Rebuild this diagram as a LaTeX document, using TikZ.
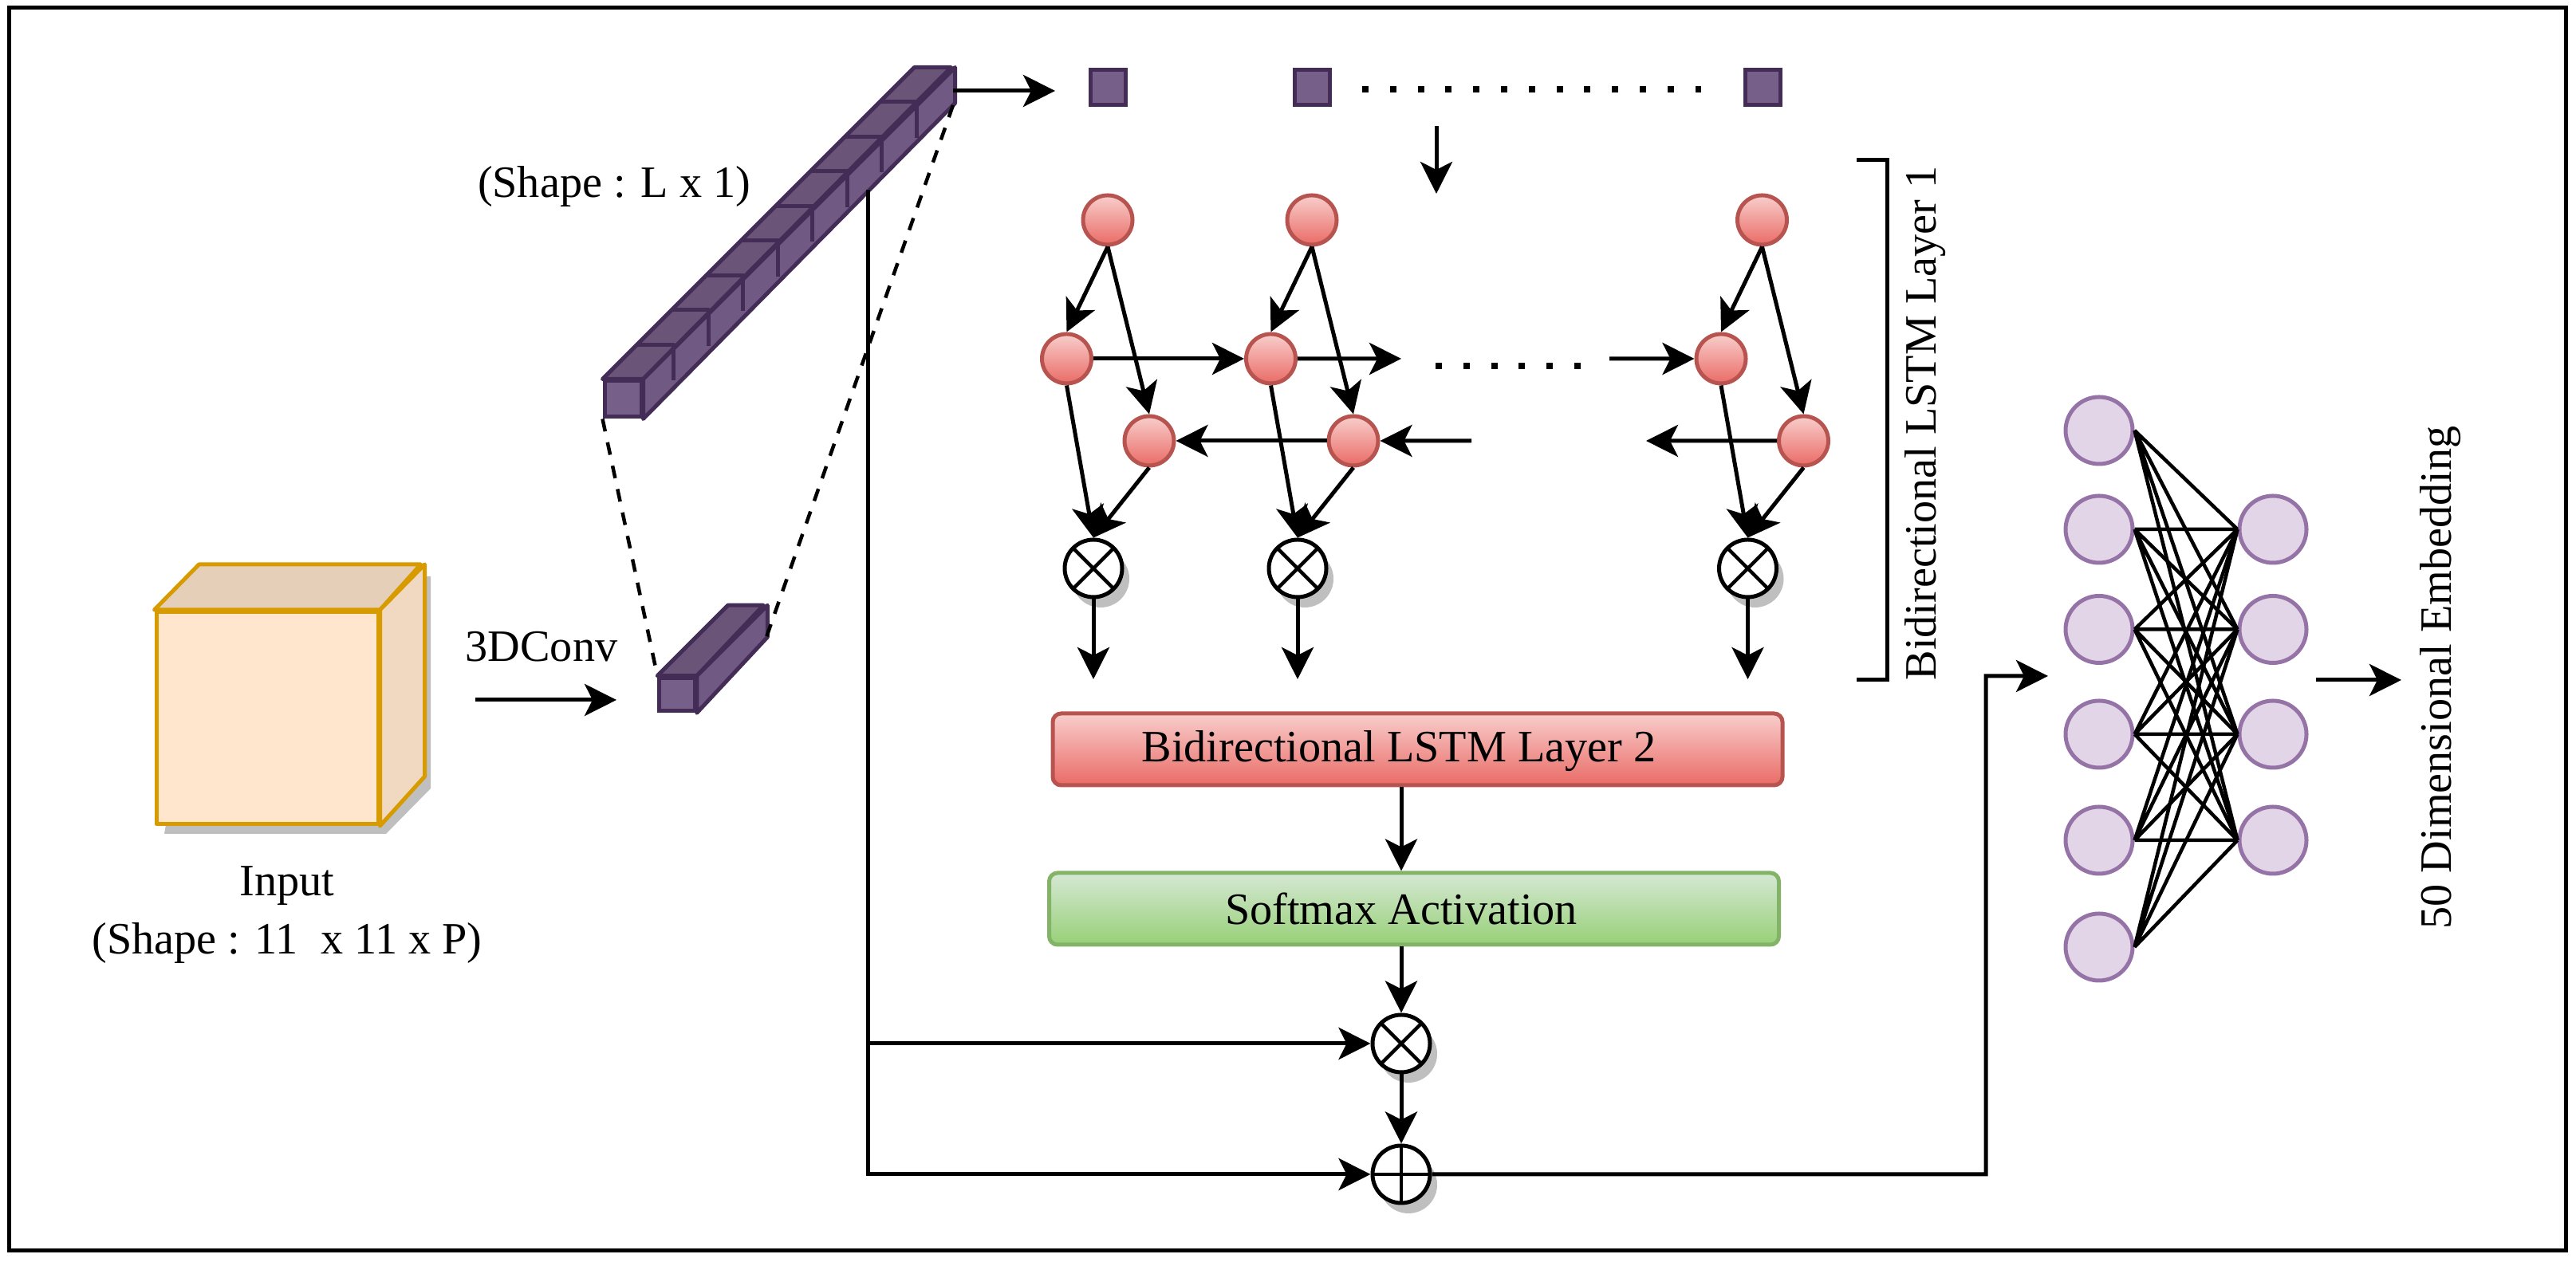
\documentclass[tikz,border=0pt]{standalone}
\usepackage{fontspec}
\setmainfont{Liberation Serif}
\usetikzlibrary{positioning, arrows.meta, shadows}
\definecolor{colorCubeFront}{RGB}{255,230,204}
\definecolor{colorCubeSide}{RGB}{240,217,192}
\definecolor{colorCubeTop}{RGB}{229,207,184}
\definecolor{colorCubeLine}{RGB}{215,155,0}
\definecolor{colorBarFront}{RGB}{118,96,138}
\definecolor{colorBarSide}{RGB}{112,90,132}
\definecolor{colorBarTop}{RGB}{106,84,120}
\definecolor{colorBarLine}{RGB}{67,45,87}
\definecolor{colorRedTop}{RGB}{248,206,204}
\definecolor{colorRedBottom}{RGB}{234,107,102}
\definecolor{colorRedLine}{RGB}{184,84,80}
\definecolor{colorGreenTop}{RGB}{213,232,212}
\definecolor{colorGreenBottom}{RGB}{151,208,119}
\definecolor{colorGreenLine}{RGB}{130,179,102}
\definecolor{colorDense}{RGB}{225,213,231}
\definecolor{colorDenseLine}{RGB}{150,115,166}

\begin{document}
\begin{tikzpicture}[
    on grid,
    every node/.style={font=\fontsize{16pt}{20.7pt}\selectfont},
    arrow/.style={-{Stealth[length=.40cm,width=.40cm,inset=.1cm]}, line width=.05cm, color=black},
    link/.style={line width=.045cm, color=black},
    dots/.style={line width=.085cm, dash pattern=on .08cm off .268cm},
    barface/.style={draw=colorBarLine, line width=.05cm, line join=round},
    cube/.style={draw=colorCubeLine, line width=.05cm, line join=round},
    cell/.style={rectangle, draw=colorBarLine, fill=colorBarFront, line width=.05cm, minimum size=.44cm, inner sep=0pt},
    lstm/.style={circle, draw=colorRedLine, line width=.05cm, top color=colorRedTop, bottom color=colorRedBottom, minimum size=.62cm, inner sep=0pt},
    dense/.style={circle, draw=colorDenseLine, fill=colorDense, line width=.05cm, minimum size=.84cm, inner sep=0pt},
    merge/.style={circle, draw=black, fill=white, line width=.05cm, minimum size=.72cm, inner sep=0pt,
                  drop shadow={shadow xshift=.09cm, shadow yshift=-.13cm, fill=black!25, opacity=1}},
    times/.style={merge, path picture={\draw[line width=.045cm] (path picture bounding box.south west) -- (path picture bounding box.north east)
                  (path picture bounding box.north west) -- (path picture bounding box.south east);}},
    plus/.style={merge, path picture={\draw[line width=.045cm] (path picture bounding box.south) -- (path picture bounding box.north)
                  (path picture bounding box.west) -- (path picture bounding box.east);}},
    block/.style={rectangle, rounded corners=3pt, line width=.05cm, minimum width=9.15cm, minimum height=.9cm, inner sep=0pt}
]
\useasboundingbox (0,0) rectangle (32.30,15.83);

% Outer frame
\draw[line width=.05cm] (.12,.14) rectangle (32.17,15.73);

% Input cube
\fill[black!25] (2.06,5.37) -- ++(2.78,0) -- ++(.56,.57) -- ++(0,2.66) -- ++(-2.78,0) -- cycle;
\node[rectangle, cube, fill=colorCubeFront, minimum width=2.78cm, minimum height=2.66cm, inner sep=0pt] (Input) at (3.35,6.825) {};
\draw[cube, fill=colorCubeTop] (Input.north west) -- ++(.56,.57) -- ++(2.78,0) -- (Input.north east) -- cycle;
\draw[cube, fill=colorCubeSide] (Input.north east) -- ++(.56,.57) -- ++(0,-2.66) -- (Input.south east) -- cycle;
\node (InputLabel) at (3.60,4.72) {Input};
\node[below=.72cm of InputLabel] (InputShape) {(Shape : 11~ x 11 x P)};

% 3DConv step
\coordinate (ConvFrom) at (5.96,7.05);
\coordinate (ConvTo) at (7.73,7.05);
\draw[arrow] (ConvFrom) -- (ConvTo);
\node (ConvLabel) at (6.79,7.72) {3DConv};

% Small feature block
\node[cell, minimum width=.445cm, minimum height=.415cm] (SmallFront) at (8.49,7.12) {};
\draw[barface, fill=colorBarTop] (SmallFront.north west) -- ++(.885,.885) -- ++(.445,0) -- (SmallFront.north east) -- cycle;
\draw[barface, fill=colorBarSide] (SmallFront.north east) -- ++(.885,.885) -- ++(0,-.40) -- (SmallFront.south east) -- cycle;
\coordinate (SmallEnd) at (9.60,7.81);

% Long feature block
\node[cell, minimum width=.46cm, minimum height=.45cm] (BarFront) at (7.81,10.825) {};
\draw[barface, fill=colorBarTop] (BarFront.north west) -- ++(3.91,3.91) -- ++(.46,0) -- (BarFront.north east) -- cycle;
\draw[barface, fill=colorBarSide] (BarFront.north east) -- ++(3.91,3.91) -- ++(0,-.45) -- (BarFront.south east) -- cycle;
\draw[barface] ([shift={(.434,.434)}]BarFront.north west) -- ++(.46,0) -- ++(0,-.45);
\draw[barface] ([shift={(.869,.869)}]BarFront.north west) -- ++(.46,0) -- ++(0,-.45);
\draw[barface] ([shift={(1.303,1.303)}]BarFront.north west) -- ++(.46,0) -- ++(0,-.45);
\draw[barface] ([shift={(1.738,1.738)}]BarFront.north west) -- ++(.46,0) -- ++(0,-.45);
\draw[barface] ([shift={(2.172,2.172)}]BarFront.north west) -- ++(.46,0) -- ++(0,-.45);
\draw[barface] ([shift={(2.607,2.607)}]BarFront.north west) -- ++(.46,0) -- ++(0,-.45);
\draw[barface] ([shift={(3.041,3.041)}]BarFront.north west) -- ++(.46,0) -- ++(0,-.45);
\draw[barface] ([shift={(3.476,3.476)}]BarFront.north west) -- ++(.46,0) -- ++(0,-.45);
\node (BarLabel) at (7.70,13.49) {(Shape : L x 1)};
\coordinate (BarEnd) at (11.95,14.51);
\coordinate (BarOut) at (11.95,14.69);

% Dashed projection
\draw[link, dashed, dash pattern=on .16cm off .14cm] (BarFront.south west) -- (SmallFront.north west);
\draw[link, dashed, dash pattern=on .16cm off .14cm] (BarEnd) -- (SmallEnd);

% Sequence squares
\node[cell] (Seq1) at (13.89,14.73) {};
\node[cell, right=2.56cm of Seq1] (Seq2) {};
\node[cell, right=8.21cm of Seq1] (Seq3) {};
\coordinate (SeqIn) at (13.23,14.69);
\coordinate (DotsFrom) at (17.08,14.71);
\coordinate (DotsTo) at (21.33,14.71);
\coordinate (DownFrom) at (18.01,14.25);
\coordinate (DownTo) at (18.01,13.40);
\draw[arrow] (BarOut) -- (SeqIn);
\draw[dots] (DotsFrom) -- (DotsTo);
\draw[arrow] (DownFrom) -- (DownTo);

% Bidirectional LSTM layer 1 cells
\node[lstm] (Top1) at (13.89,13.07) {};
\node[lstm, right=2.56cm of Top1] (Top2) {};
\node[lstm, right=8.205cm of Top1] (Top3) {};
\node[lstm, below left=1.74cm and .515cm of Top1] (Fwd1) {};
\node[lstm, below left=1.74cm and .515cm of Top2] (Fwd2) {};
\node[lstm, below left=1.74cm and .515cm of Top3] (Fwd3) {};
\node[lstm, below right=2.77cm and .52cm of Top1] (Bwd1) {};
\node[lstm, below right=2.77cm and .52cm of Top2] (Bwd2) {};
\node[lstm, below right=2.77cm and .52cm of Top3] (Bwd3) {};
\node[times, below left=4.37cm and .18cm of Top1] (Mul1) {};
\node[times, below left=4.37cm and .18cm of Top2] (Mul2) {};
\node[times, below left=4.37cm and .18cm of Top3] (Mul3) {};

% Arrows inside layer 1
\draw[arrow] (Top1.south) -- (Fwd1.north);
\draw[arrow] (Top1.south) -- (Bwd1.north);
\draw[arrow] (Top2.south) -- (Fwd2.north);
\draw[arrow] (Top2.south) -- (Bwd2.north);
\draw[arrow] (Top3.south) -- (Fwd3.north);
\draw[arrow] (Top3.south) -- (Bwd3.north);
\draw[arrow] (Fwd1.south) -- (Mul1.north);
\draw[arrow] (Bwd1.south) -- (Mul1.north);
\draw[arrow] (Fwd2.south) -- (Mul2.north);
\draw[arrow] (Bwd2.south) -- (Mul2.north);
\draw[arrow] (Fwd3.south) -- (Mul3.north);
\draw[arrow] (Bwd3.south) -- (Mul3.north);
\draw[arrow] (Fwd1.east) -- (Fwd2.west);
\draw[arrow] (Bwd2.west) -- (Bwd1.east);

% Open ended arrows around the gap
\coordinate (FwdOut) at (17.57,11.33);
\coordinate (FwdIn) at (20.18,11.33);
\coordinate (BwdIn) at (18.45,10.30);
\coordinate (BwdOut) at (20.64,10.30);
\coordinate (GapFrom) at (18.00,11.24);
\coordinate (GapTo) at (19.84,11.24);
\draw[arrow] (Fwd2.east) -- (FwdOut);
\draw[arrow] (FwdIn) -- (Fwd3.west);
\draw[arrow] (BwdIn) -- (Bwd2.east);
\draw[arrow] (Bwd3.west) -- (BwdOut);
\draw[dots] (GapFrom) -- (GapTo);

% Outputs of layer 1
\coordinate[below=1.39cm of Mul1] (Out1);
\coordinate[below=1.39cm of Mul2] (Out2);
\coordinate[below=1.39cm of Mul3] (Out3);
\draw[arrow] (Mul1.south) -- (Out1);
\draw[arrow] (Mul2.south) -- (Out2);
\draw[arrow] (Mul3.south) -- (Out3);

% Bracket with its label
\coordinate (BracketTop) at (23.28,13.82);
\coordinate (BracketBottom) at (23.28,7.30);
\draw[line width=.05cm] (BracketTop) -- ++(.38,0) |- (BracketBottom);
\node[rotate=90] (Layer1Label) at (24.14,10.52) {Bidirectional LSTM Layer 1};

% Layer 2, softmax and merging
\node[block, draw=colorRedLine, top color=colorRedTop, bottom color=colorRedBottom] (Layer2) at (17.775,6.43) {};
\node (Layer2Label) at (17.54,6.41) {Bidirectional LSTM Layer 2};
\node[block, draw=colorGreenLine, top color=colorGreenTop, bottom color=colorGreenBottom, below=2cm of Layer2, xshift=-.045cm] (Softmax) {};
\node (SoftmaxLabel) at (17.57,4.43) {Softmax Activation};
\node[times, below=1.69cm of Softmax, xshift=-.16cm] (Attention) {};
\node[plus, below=1.64cm of Attention] (Residual) {};
\draw[arrow] (Layer2.south -| Attention) -- (Softmax.north -| Attention);
\draw[arrow] (Softmax.south -| Attention) -- (Attention.north);
\draw[arrow] (Attention.south) -- (Residual.north);

% Skip connection
\coordinate (Trunk) at (10.88,13.45);
\draw[arrow] (Trunk) |- (Residual.west);
\draw[arrow] (Trunk |- Attention.west) -- (Attention.west);

% Dense layers
\node[dense] (Dense1) at (26.32,10.43) {};
\node[dense, below=1.24cm of Dense1] (Dense2) {};
\node[dense, below=1.255cm of Dense2] (Dense3) {};
\node[dense, below=1.315cm of Dense3] (Dense4) {};
\node[dense, below=1.33cm of Dense4] (Dense5) {};
\node[dense, below=1.34cm of Dense5] (Dense6) {};
\node[dense, right=2.18cm of Dense2] (Emb1) {};
\node[dense, right=2.18cm of Dense3] (Emb2) {};
\node[dense, right=2.18cm of Dense4] (Emb3) {};
\node[dense, right=2.18cm of Dense5] (Emb4) {};

% Fully connected edges
\draw[link] (Dense1.east) -- (Emb1.west) (Dense1.east) -- (Emb2.west) (Dense1.east) -- (Emb3.west) (Dense1.east) -- (Emb4.west);
\draw[link] (Dense2.east) -- (Emb1.west) (Dense2.east) -- (Emb2.west) (Dense2.east) -- (Emb3.west) (Dense2.east) -- (Emb4.west);
\draw[link] (Dense3.east) -- (Emb1.west) (Dense3.east) -- (Emb2.west) (Dense3.east) -- (Emb3.west) (Dense3.east) -- (Emb4.west);
\draw[link] (Dense4.east) -- (Emb1.west) (Dense4.east) -- (Emb2.west) (Dense4.east) -- (Emb3.west) (Dense4.east) -- (Emb4.west);
\draw[link] (Dense5.east) -- (Emb1.west) (Dense5.east) -- (Emb2.west) (Dense5.east) -- (Emb3.west) (Dense5.east) -- (Emb4.west);
\draw[link] (Dense6.east) -- (Emb1.west) (Dense6.east) -- (Emb2.west) (Dense6.east) -- (Emb3.west) (Dense6.east) -- (Emb4.west);

% Into and out of the dense layers
\coordinate (Elbow) at (24.90,1.10);
\coordinate (DenseIn) at (25.68,7.35);
\draw[arrow] (Residual.east) -- (Elbow) |- (DenseIn);
\coordinate (EmbFrom) at (29.04,7.30);
\coordinate (EmbTo) at (30.11,7.30);
\draw[arrow] (EmbFrom) -- (EmbTo);
\node[rotate=90] (EmbLabel) at (30.60,7.33) {50 Dimensional Embedding};

\end{tikzpicture}
\end{document}
